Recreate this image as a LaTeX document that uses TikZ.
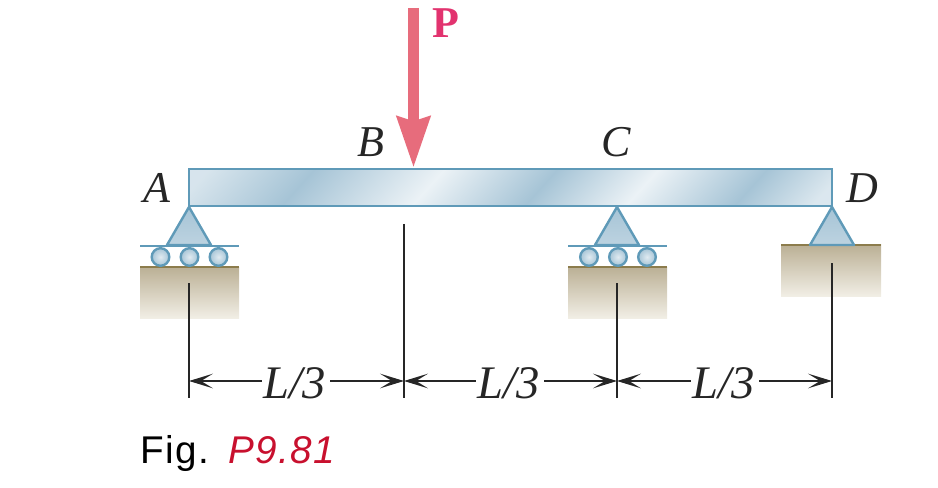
\documentclass[tikz,border=0pt]{standalone}
\usepackage{fontspec}
\setmainfont{Liberation Serif}
\setsansfont{Liberation Sans}
\usetikzlibrary{arrows.meta}
\definecolor{beamline}{HTML}{5F9AB8}
\definecolor{supportfill}{HTML}{A6C4D6}
\definecolor{groundtop}{HTML}{8C7C4C}
\definecolor{groundhi}{HTML}{BBB095}
\definecolor{groundlo}{HTML}{F1EEE5}
\definecolor{loadcolor}{HTML}{E76C7C}
\definecolor{loadtext}{HTML}{E2336F}
\definecolor{figred}{HTML}{C8102E}
\pgfdeclarehorizontalshading{beamshade}{100bp}{
    color(0bp)=(white!55!supportfill);
    color(28bp)=(white!55!supportfill);
    color(35.3bp)=(supportfill);
    color(44.3bp)=(white!78!supportfill);
    color(52.1bp)=(supportfill);
    color(59.1bp)=(white!78!supportfill);
    color(66.6bp)=(supportfill);
    color(72bp)=(white!60!supportfill);
    color(100bp)=(white!60!supportfill)}
\tikzset{
    beam/.style={draw=beamline, line width=2pt},
    wedge/.style={draw=beamline, line width=1.8pt, top color=supportfill, bottom color=white!25!supportfill, line join=round},
    plate/.style={draw=beamline, line width=1.5pt},
    roller/.style={draw=beamline, line width=1.8pt, inner color=white!65!supportfill, outer color=supportfill},
    ground/.style={top color=groundhi, bottom color=groundlo, draw=none},
    groundedge/.style={draw=groundtop, line width=1.4pt},
    dimline/.style={draw=black!85, line width=1.5pt},
    dimarrow/.style={draw=black!85, line width=1.1pt, -{Stealth[length=18pt,width=11pt,inset=9pt]}},
    letter/.style={font=\fontsize{33}{33}\selectfont\itshape, text=black!85, inner sep=0pt},
    dimtext/.style={font=\fontsize{35}{35}\selectfont\itshape, text=black!85, inner sep=0pt}
}
\begin{document}
\begin{tikzpicture}[x=0.75pt,y=-0.75pt]
        \useasboundingbox (0,0) rectangle (938,488);

        \coordinate (A) at (189, 207);
        \coordinate (B) at (404, 207);
        \coordinate (C) at (617, 207);
        \coordinate (D) at (832, 207);

        % ground blocks
        \fill[ground] (140,267) rectangle (239,318);
        \fill[ground] (568,267) rectangle (667,318);
        \fill[ground] (781,245) rectangle (881,296);
        \draw[groundedge] (140,267) -- (239,267) (568,267) -- (667,267) (781,245) -- (881,245);

        % beam, with slanted sheen
        \begin{scope}
            \clip (189,169) rectangle (832,206);
            \shade[shading=beamshade, transform canvas={xshift=126.6pt, xslant=0.9}] (149,169) rectangle (872,206);
        \end{scope}
        \draw[beam] (189,169) rectangle (832,206);

        % supports
        \draw[wedge] (A) -- +(-22,38) -- +(22,38) -- cycle;
        \draw[wedge] (C) -- +(-22,38) -- +(22,38) -- cycle;
        \draw[wedge] (D) -- +(-22,38) -- +(22,38) -- cycle;
        \draw[plate] (140,246) -- (239,246) (568,246) -- (667,246);
        \foreach \x in {160.5,189.5,218.5,589,618,647}
            \draw[roller] (\x,257) circle[radius=6.6pt];

        % load
        \coordinate (Ptail) at (413.5, 8);
        \coordinate (Ptip) at (413.5, 168);
        \draw[loadcolor, line width=8.3pt, -{Stealth[length=38pt,width=24pt,inset=3pt]}] (Ptail) -- (Ptip);
        \node[text=loadtext, inner sep=0pt, font=\fontsize{33}{33}\selectfont\bfseries] (Plabel) at (446,23) {P};

        % point labels
        \node[letter] (Alabel) at (157,188) {A};
        \node[letter] (Blabel) at (371,142) {B};
        \node[letter] (Clabel) at (616,142) {C};
        \node[letter] (Dlabel) at (862,188) {D};

        % dimensions
        \draw[dimline] (189,283) -- (189,398);
        \draw[dimline] (404,224) -- (404,398);
        \draw[dimline] (617,283) -- (617,398);
        \draw[dimline] (832,263) -- (832,398);

        \node[dimtext] (AB) at (295,383) {L/3};
        \node[dimtext] (BC) at (509,383) {L/3};
        \node[dimtext] (CD) at (724,383) {L/3};

        \coordinate (a1) at (189,381);
        \coordinate (b1) at (404,381);
        \coordinate (c1) at (617,381);
        \coordinate (d1) at (832,381);
        \draw[dimarrow] (AB.west |- a1) ++(-2,0) -- (a1);
        \draw[dimarrow] (AB.east |- a1) ++(4,0) -- (b1);
        \draw[dimarrow] (BC.west |- a1) ++(-2,0) -- (b1);
        \draw[dimarrow] (BC.east |- a1) ++(4,0) -- (c1);
        \draw[dimarrow] (CD.west |- a1) ++(-2,0) -- (c1);
        \draw[dimarrow] (CD.east |- a1) ++(4,0) -- (d1);

        \node[anchor=base west, inner sep=0pt, font=\fontsize{29}{29}\selectfont\sffamily\addfontfeature{LetterSpace=4}] (figlabel) at (140,463)
            {Fig.\hspace{14pt}\textcolor{figred}{\itshape P9.81}};
    \end{tikzpicture}
\end{document}
